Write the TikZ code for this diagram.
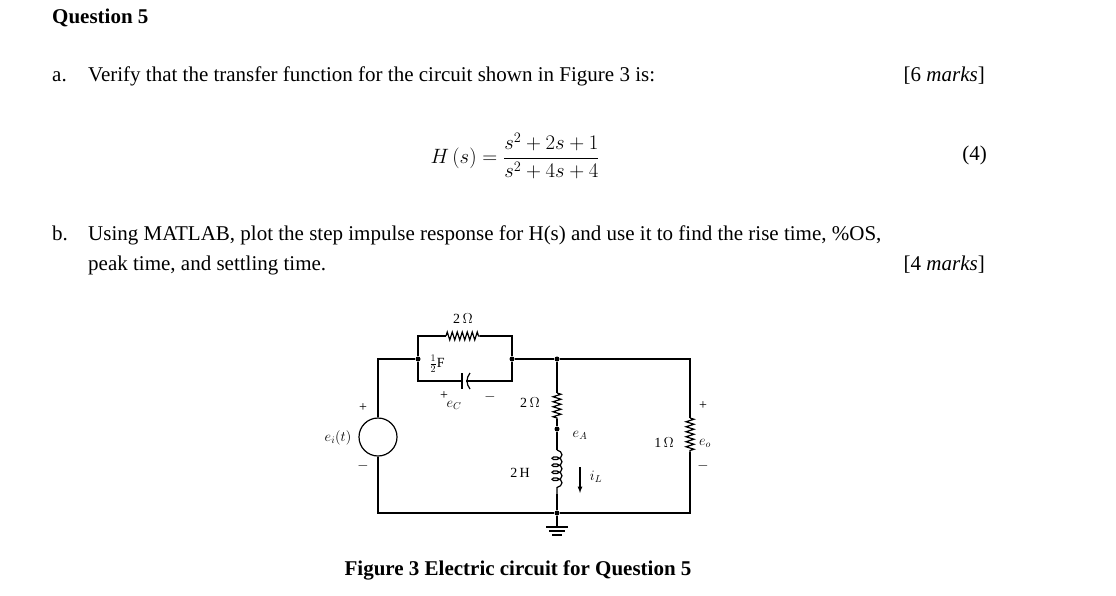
\documentclass[tikz,border=0pt]{standalone}
\usepackage{amsmath}
\usepackage{fontspec}
\setmainfont{Liberation Serif}
\usetikzlibrary{decorations.pathmorphing}
\begin{document}
\begin{tikzpicture}[x=1pt,y=-1pt,
  txt/.style={inner sep=0pt,font=\fontsize{21}{24}\selectfont},
  lbl/.style={inner sep=0pt,font=\fontsize{14}{16}\selectfont},
  wire/.style={line width=1.2pt},
  dot/.style={circle,fill,inner sep=0pt,minimum size=5pt},
  zig/.style={wire,decorate,decoration={zigzag,segment length=5pt,amplitude=4pt}},
  coil/.style={wire,decorate,decoration={coil,aspect=0.6,segment length=7pt,amplitude=5pt}}]
\useasboundingbox (0,0) rectangle (1116,595);
\node[txt,anchor=base west,font=\fontsize{21}{24}\selectfont\bfseries] (q) at (52,23) {Question 5};
\node[txt,anchor=base west] (a) at (52,81) {a.};
\node[txt,anchor=base west] (at) at (88,81) {Verify that the transfer function for the circuit shown in Figure 3 is:};
\node[txt,anchor=base east] (am) at (985,81) {[6 \textit{marks}]};
\node[txt,anchor=center] (eq) at (515,156) {$H\left(s\right)=\dfrac{s^{2}+2s+1}{s^{2}+4s+4}$};
\node[txt,anchor=base east] (n4) at (987,160) {(4)};
\node[txt,anchor=base west] (b) at (52,240) {b.};
\node[txt,anchor=base west] (bt) at (88,240) {Using MATLAB, plot the step impulse response for H(s) and use it to find the rise time, \%OS,};
\node[txt,anchor=base west] (bt2) at (88,270) {peak time, and settling time.};
\node[txt,anchor=base east] (bm) at (985,270) {[4 \textit{marks}]};
\node[txt,anchor=base,font=\fontsize{21}{24}\selectfont\bfseries] (cap) at (518,575) {Figure 3 Electric circuit for Question 5};
% circuit
\coordinate (tl) at (378,359); \coordinate (bl) at (378,513);
\node[dot] (j1) at (418,359) {}; \node[dot] (j2) at (512,359) {};
\node[dot] (j3) at (557,359) {}; \coordinate (tr) at (690,359);
\coordinate (br) at (690,513); \node[dot] (j4) at (557,513) {};
\node[dot] (ea) at (557,429) {};
\node[draw,circle,line width=1.2pt,minimum size=38pt,inner sep=0pt] (src) at (378,437) {};
\draw[wire] (src.north) -- (tl) -- (j1) (src.south) -- (bl) -- (j4) -- (br) -- (690,452);
\draw[zig] (690,418) -- (690,452);
\draw[wire] (j2) -- (j3) -- (tr) -- (690,418);
% parallel RC
\draw[wire] (j1) -- (418,336) -- (446,336);
\draw[zig] (446,336) -- (480,336);
\draw[wire] (480,336) -- (512,336) -- (j2);
\draw[wire] (j1) -- (418,381) -- (462,381) (462,373) -- (462,389);
\draw[wire] (470,373) .. controls (466,378) and (466,384) .. (470,389);
\draw[wire] (466,381) -- (512,381) -- (j2);
% middle branch
\draw[wire] (j3) -- (557,393);
\draw[zig] (557,393) -- (557,419);
\draw[wire] (557,419) -- (ea) -- (557,450);
\draw[coil] (557,450) -- (557,494);
\draw[wire] (557,494) -- (j4) -- (557,527);
\draw[wire] (546,527) -- (568,527) (549,531) -- (565,531) (552,535) -- (562,535);
\draw[wire,-latex] (580,467) -- (580,493);
% labels
\node[lbl] (l1) at (463,319) {2\,$\Omega$};
\node[lbl] (l2) at (437,364) {$\frac{1}{2}$F};
\node[lbl] (l3) at (444,396) {+};
\node[lbl] (l4) at (454,405) {$e_C$};
\node[lbl] (l5) at (490,397) {$-$};
\node[lbl] (l6) at (530,403) {2\,$\Omega$};
\node[lbl] (l7) at (580,435) {$e_A$};
\node[lbl] (l8) at (520,473) {2\,H};
\node[lbl] (l9) at (596,477) {$i_L$};
\node[lbl] (l10) at (664,443) {1\,$\Omega$};
\node[lbl] (l11) at (705,443) {$e_o$};
\node[lbl] (l12) at (703,406) {+};
\node[lbl] (l13) at (703,466) {$-$};
\node[lbl] (l14) at (363,408) {+};
\node[lbl] (l15) at (363,466) {$-$};
\node[lbl] (l16) at (338,438) {$e_i(t)$};
\end{tikzpicture}
\end{document}
